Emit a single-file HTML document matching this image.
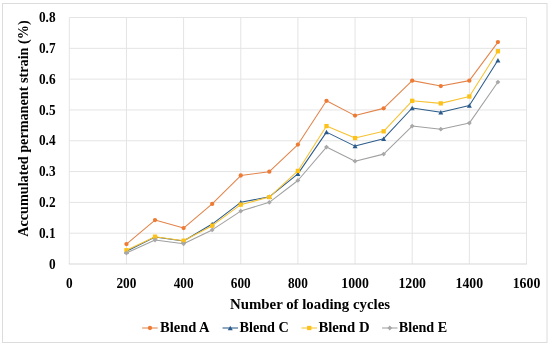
<!DOCTYPE html><html><head><meta charset="utf-8"><style>html,body{margin:0;padding:0;background:#fff;width:550px;height:346px;overflow:hidden}svg{display:block}text{font-family:"Liberation Serif", serif;font-weight:bold;fill:#000}</style></head><body>
<svg width="550" height="346" viewBox="0 0 550 346">
<rect x="0" y="0" width="550" height="346" fill="#fff"/>
<rect x="2.5" y="3.5" width="544.5" height="339" fill="none" stroke="#DCDCDC" stroke-width="1"/>
<path d="M69.30 233.19H526.50M69.30 202.38H526.50M69.30 171.57H526.50M69.30 140.76H526.50M69.30 109.95H526.50M69.30 79.14H526.50M69.30 48.33H526.50M69.30 17.52H526.50M69.30 17.52V264.00M126.45 17.52V264.00M183.60 17.52V264.00M240.75 17.52V264.00M297.90 17.52V264.00M355.05 17.52V264.00M412.20 17.52V264.00M469.35 17.52V264.00M526.50 17.52V264.00" stroke="#E4E4E4" stroke-width="1.0" fill="none"/>
<path d="M68.80 264.00H527.00" stroke="#D8D8D8" stroke-width="1.1" fill="none"/>
<text transform="translate(55.6 268.70) scale(1 1.08)" font-size="13.3" text-anchor="end">0</text>
<text transform="translate(55.6 237.89) scale(1 1.08)" font-size="13.3" text-anchor="end">0.1</text>
<text transform="translate(55.6 207.08) scale(1 1.08)" font-size="13.3" text-anchor="end">0.2</text>
<text transform="translate(55.6 176.27) scale(1 1.08)" font-size="13.3" text-anchor="end">0.3</text>
<text transform="translate(55.6 145.46) scale(1 1.08)" font-size="13.3" text-anchor="end">0.4</text>
<text transform="translate(55.6 114.65) scale(1 1.08)" font-size="13.3" text-anchor="end">0.5</text>
<text transform="translate(55.6 83.84) scale(1 1.08)" font-size="13.3" text-anchor="end">0.6</text>
<text transform="translate(55.6 53.03) scale(1 1.08)" font-size="13.3" text-anchor="end">0.7</text>
<text transform="translate(55.6 22.22) scale(1 1.08)" font-size="13.3" text-anchor="end">0.8</text>
<text transform="translate(69.30 288.2) scale(1 1.08)" font-size="13.3" text-anchor="middle">0</text>
<text transform="translate(126.45 288.2) scale(1 1.08)" font-size="13.3" text-anchor="middle">200</text>
<text transform="translate(183.60 288.2) scale(1 1.08)" font-size="13.3" text-anchor="middle">400</text>
<text transform="translate(240.75 288.2) scale(1 1.08)" font-size="13.3" text-anchor="middle">600</text>
<text transform="translate(297.90 288.2) scale(1 1.08)" font-size="13.3" text-anchor="middle">800</text>
<text transform="translate(355.05 288.2) scale(1 1.08)" font-size="13.3" text-anchor="middle" textLength="27.6" lengthAdjust="spacingAndGlyphs">1000</text>
<text transform="translate(412.20 288.2) scale(1 1.08)" font-size="13.3" text-anchor="middle" textLength="27.6" lengthAdjust="spacingAndGlyphs">1200</text>
<text transform="translate(469.35 288.2) scale(1 1.08)" font-size="13.3" text-anchor="middle" textLength="27.6" lengthAdjust="spacingAndGlyphs">1400</text>
<text transform="translate(526.50 288.2) scale(1 1.08)" font-size="13.3" text-anchor="middle" textLength="27.6" lengthAdjust="spacingAndGlyphs">1600</text>
<text x="230" y="309.4" font-size="14" textLength="160" lengthAdjust="spacingAndGlyphs">Number of loading cycles</text>
<text transform="translate(28.2 236.8) rotate(-90)" x="0" y="0" font-size="14" textLength="216.5" lengthAdjust="spacingAndGlyphs">Accumulated permanent strain (%)</text>
<polyline points="126.45,244.09 155.02,220.06 183.60,228.07 212.18,203.88 240.75,175.51 269.32,171.69 297.90,144.57 326.48,100.82 355.05,115.61 383.62,108.37 412.20,80.64 440.78,86.03 469.35,80.64 497.93,42.10" fill="none" stroke="#E3844A" stroke-width="1.05" stroke-linejoin="round" stroke-linecap="round"/>
<circle cx="126.45" cy="244.09" r="2.15" fill="#EE7B34"/>
<circle cx="155.02" cy="220.06" r="2.15" fill="#EE7B34"/>
<circle cx="183.60" cy="228.07" r="2.15" fill="#EE7B34"/>
<circle cx="212.18" cy="203.88" r="2.15" fill="#EE7B34"/>
<circle cx="240.75" cy="175.51" r="2.15" fill="#EE7B34"/>
<circle cx="269.32" cy="171.69" r="2.15" fill="#EE7B34"/>
<circle cx="297.90" cy="144.57" r="2.15" fill="#EE7B34"/>
<circle cx="326.48" cy="100.82" r="2.15" fill="#EE7B34"/>
<circle cx="355.05" cy="115.61" r="2.15" fill="#EE7B34"/>
<circle cx="383.62" cy="108.37" r="2.15" fill="#EE7B34"/>
<circle cx="412.20" cy="80.64" r="2.15" fill="#EE7B34"/>
<circle cx="440.78" cy="86.03" r="2.15" fill="#EE7B34"/>
<circle cx="469.35" cy="80.64" r="2.15" fill="#EE7B34"/>
<circle cx="497.93" cy="42.10" r="2.15" fill="#EE7B34"/>
<polyline points="126.45,251.18 155.02,237.00 183.60,241.01 212.18,224.06 240.75,202.31 269.32,196.80 297.90,173.84 326.48,132.10 355.05,146.11 383.62,138.72 412.20,108.00 440.78,112.22 469.35,105.44 497.93,60.31" fill="none" stroke="#2B5B8B" stroke-width="1.05" stroke-linejoin="round" stroke-linecap="round"/>
<path d="M126.45 248.93L128.95 253.43L123.95 253.43Z" fill="#2A5B8C"/>
<path d="M155.02 234.75L157.52 239.25L152.52 239.25Z" fill="#2A5B8C"/>
<path d="M183.60 238.76L186.10 243.26L181.10 243.26Z" fill="#2A5B8C"/>
<path d="M212.18 221.81L214.68 226.31L209.68 226.31Z" fill="#2A5B8C"/>
<path d="M240.75 200.06L243.25 204.56L238.25 204.56Z" fill="#2A5B8C"/>
<path d="M269.32 194.55L271.82 199.05L266.82 199.05Z" fill="#2A5B8C"/>
<path d="M297.90 171.59L300.40 176.09L295.40 176.09Z" fill="#2A5B8C"/>
<path d="M326.48 129.85L328.98 134.35L323.98 134.35Z" fill="#2A5B8C"/>
<path d="M355.05 143.86L357.55 148.36L352.55 148.36Z" fill="#2A5B8C"/>
<path d="M383.62 136.47L386.12 140.97L381.12 140.97Z" fill="#2A5B8C"/>
<path d="M412.20 105.75L414.70 110.25L409.70 110.25Z" fill="#2A5B8C"/>
<path d="M440.78 109.97L443.28 114.47L438.28 114.47Z" fill="#2A5B8C"/>
<path d="M469.35 103.19L471.85 107.69L466.85 107.69Z" fill="#2A5B8C"/>
<path d="M497.93 58.06L500.43 62.56L495.43 62.56Z" fill="#2A5B8C"/>
<polyline points="126.45,250.25 155.02,236.70 183.60,240.70 212.18,225.70 240.75,204.65 269.32,197.10 297.90,170.92 326.48,126.09 355.05,138.10 383.62,131.33 412.20,100.82 440.78,103.38 469.35,96.51 497.93,51.22" fill="none" stroke="#F6C232" stroke-width="1.05" stroke-linejoin="round" stroke-linecap="round"/>
<rect x="124.30" y="248.10" width="4.3" height="4.3" fill="#FCC21A"/>
<rect x="152.87" y="234.55" width="4.3" height="4.3" fill="#FCC21A"/>
<rect x="181.45" y="238.55" width="4.3" height="4.3" fill="#FCC21A"/>
<rect x="210.03" y="223.55" width="4.3" height="4.3" fill="#FCC21A"/>
<rect x="238.60" y="202.50" width="4.3" height="4.3" fill="#FCC21A"/>
<rect x="267.18" y="194.95" width="4.3" height="4.3" fill="#FCC21A"/>
<rect x="295.75" y="168.77" width="4.3" height="4.3" fill="#FCC21A"/>
<rect x="324.33" y="123.94" width="4.3" height="4.3" fill="#FCC21A"/>
<rect x="352.90" y="135.95" width="4.3" height="4.3" fill="#FCC21A"/>
<rect x="381.48" y="129.18" width="4.3" height="4.3" fill="#FCC21A"/>
<rect x="410.05" y="98.67" width="4.3" height="4.3" fill="#FCC21A"/>
<rect x="438.63" y="101.23" width="4.3" height="4.3" fill="#FCC21A"/>
<rect x="467.20" y="94.36" width="4.3" height="4.3" fill="#FCC21A"/>
<rect x="495.78" y="49.07" width="4.3" height="4.3" fill="#FCC21A"/>
<polyline points="126.45,253.02 155.02,240.08 183.60,243.78 212.18,229.92 240.75,211.12 269.32,202.31 297.90,180.47 326.48,147.04 355.05,161.21 383.62,154.12 412.20,126.09 440.78,129.17 469.35,123.10 497.93,82.03" fill="none" stroke="#A0A0A0" stroke-width="1.05" stroke-linejoin="round" stroke-linecap="round"/>
<path d="M126.45 250.62L128.85 253.02L126.45 255.42L124.05 253.02Z" fill="#A8A8A8"/>
<path d="M155.02 237.68L157.42 240.08L155.02 242.48L152.62 240.08Z" fill="#A8A8A8"/>
<path d="M183.60 241.38L186.00 243.78L183.60 246.18L181.20 243.78Z" fill="#A8A8A8"/>
<path d="M212.18 227.52L214.58 229.92L212.18 232.32L209.78 229.92Z" fill="#A8A8A8"/>
<path d="M240.75 208.72L243.15 211.12L240.75 213.52L238.35 211.12Z" fill="#A8A8A8"/>
<path d="M269.32 199.91L271.72 202.31L269.32 204.71L266.93 202.31Z" fill="#A8A8A8"/>
<path d="M297.90 178.07L300.30 180.47L297.90 182.87L295.50 180.47Z" fill="#A8A8A8"/>
<path d="M326.48 144.64L328.88 147.04L326.48 149.44L324.08 147.04Z" fill="#A8A8A8"/>
<path d="M355.05 158.81L357.45 161.21L355.05 163.61L352.65 161.21Z" fill="#A8A8A8"/>
<path d="M383.62 151.72L386.02 154.12L383.62 156.52L381.23 154.12Z" fill="#A8A8A8"/>
<path d="M412.20 123.69L414.60 126.09L412.20 128.49L409.80 126.09Z" fill="#A8A8A8"/>
<path d="M440.78 126.77L443.18 129.17L440.78 131.57L438.38 129.17Z" fill="#A8A8A8"/>
<path d="M469.35 120.70L471.75 123.10L469.35 125.50L466.95 123.10Z" fill="#A8A8A8"/>
<path d="M497.93 79.63L500.32 82.03L497.93 84.43L495.53 82.03Z" fill="#A8A8A8"/>
<path d="M142.20 328.00H157.70" stroke="#E3844A" stroke-width="1.05"/>
<circle cx="149.95" cy="328.00" r="2.15" fill="#EE7B34"/>
<text x="160.00" y="332.3" font-size="14" textLength="49.6" lengthAdjust="spacingAndGlyphs">Blend A</text>
<path d="M222.50 328.00H238.00" stroke="#2B5B8B" stroke-width="1.05"/>
<path d="M230.25 325.75L232.75 330.25L227.75 330.25Z" fill="#2A5B8C"/>
<text x="239.50" y="332.3" font-size="14" textLength="49.3" lengthAdjust="spacingAndGlyphs">Blend C</text>
<path d="M301.50 328.00H317.00" stroke="#F6C232" stroke-width="1.05"/>
<rect x="307.10" y="325.85" width="4.3" height="4.3" fill="#FCC21A"/>
<text x="318.40" y="332.3" font-size="14" textLength="51.2" lengthAdjust="spacingAndGlyphs">Blend D</text>
<path d="M382.00 328.00H397.50" stroke="#A0A0A0" stroke-width="1.05"/>
<path d="M389.75 325.60L392.15 328.00L389.75 330.40L387.35 328.00Z" fill="#A8A8A8"/>
<text x="398.80" y="332.3" font-size="14" textLength="48.4" lengthAdjust="spacingAndGlyphs">Blend E</text>
</svg></body></html>
